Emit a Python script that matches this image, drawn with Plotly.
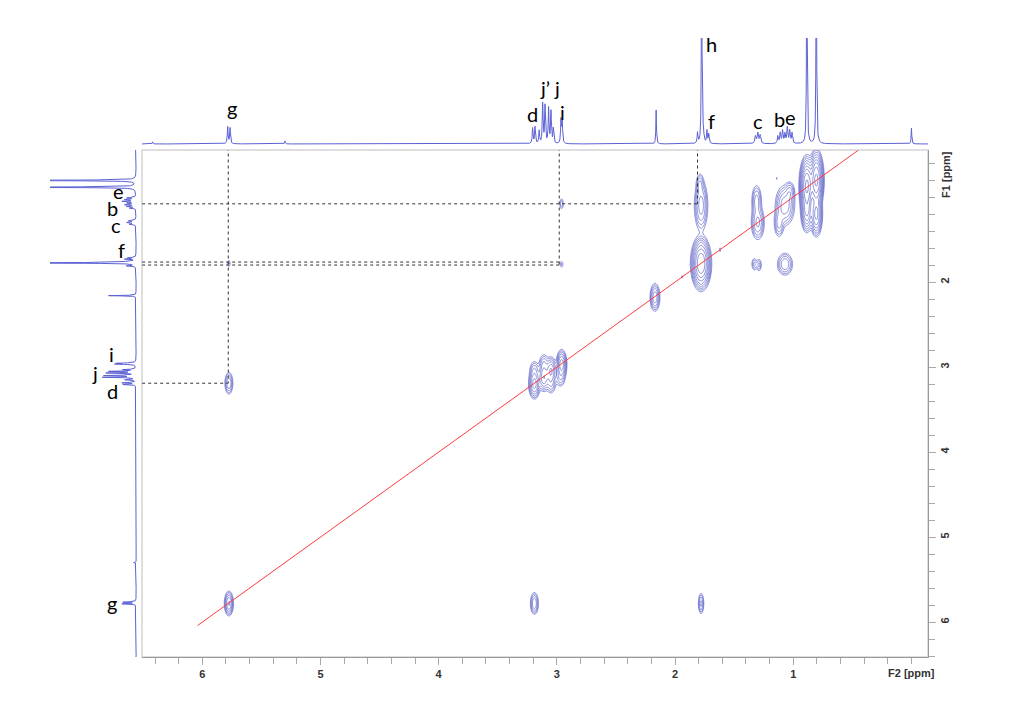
import numpy as np
import plotly.graph_objects as go

H1_PPM = [6.42, 5.785, 5.765, 5.30, 3.205, 3.185, 3.15, 3.12, 3.10, 3.07, 3.05, 3.03,
          2.965, 2.955, 2.16, 1.81, 1.775, 1.76, 1.73, 1.715, 1.32, 1.30, 1.28,
          1.13, 1.11, 1.09, 1.07, 1.05, 1.03, 1.01, 0.885, 0.805, 0.0]
H1_HEIGHT = [0.02, 0.16, 0.15, 0.03, 0.15, 0.16, 0.12, 0.38, 0.36, 0.33, 0.30, 0.14,
             0.22, 0.20, 0.32, 0.10, 2.0, 0.10, 0.12, 0.09, 0.07, 0.10, 0.08,
             0.07, 0.10, 0.12, 0.09, 0.15, 0.12, 0.10, 2.2, 2.2, 0.15]
H1_WIDTH = [0.003, 0.004, 0.004, 0.003, 0.004, 0.004, 0.004, 0.004, 0.004, 0.004, 0.004, 0.004,
            0.004, 0.004, 0.003, 0.004, 0.003, 0.004, 0.004, 0.004, 0.006, 0.006, 0.006,
            0.005, 0.005, 0.005, 0.005, 0.005, 0.005, 0.005, 0.003, 0.003, 0.003]

# ---- 2D COSY peaks: F2, F1 (ppm), intensity, linewidths in F2 / F1 ----
COSY_F2 = [5.775, 3.19, 3.11, 3.05, 2.96, 3.19, 3.05, 3.11, 2.97, 2.17, 1.94, 1.62,
           1.78, 1.78, 1.78, 1.78, 1.79, 1.30, 1.31, 1.29, 1.33, 1.07, 1.12, 1.03,
           1.07, 1.14, 0.885, 0.885, 0.805, 0.805, 0.805,
           5.775, 3.19, 5.775, 1.78, 2.96, 2.96, 1.78]
COSY_F1 = [5.78, 3.20, 3.12, 3.05, 2.97, 3.05, 3.19, 2.97, 3.11, 2.18, 1.94, 1.62,
           1.78, 1.55, 2.03, 1.10, 0.85, 1.30, 1.05, 1.80, 1.79, 1.10, 1.30, 0.95,
           1.79, 0.78, 0.87, 1.15, 0.80, 1.20, 0.62,
           3.19, 5.78, 1.78, 5.78, 1.08, 1.79, 3.15]
COSY_AMP = [1.0, 1.2, 0.9, 1.0, 1.3, 0.3, 0.3, 0.3, 0.3, 0.8, 0.07, 0.08,
            5.0, 0.15, 0.12, 0.7, 0.3, 0.6, 0.4, 0.2, 0.2, 0.8, 0.4, 0.4,
            0.5, 0.06, 6.0, 2.0, 6.0, 2.0, 0.3,
            0.5, 0.5, 0.1, 0.35, 0.15, 0.1, 0.07]
COSY_LW2 = [0.016, 0.02, 0.02, 0.02, 0.018, 0.02, 0.02, 0.02, 0.02, 0.018, 0.006, 0.006,
            0.03, 0.012, 0.01, 0.025, 0.015, 0.025, 0.02, 0.012, 0.012, 0.035, 0.02, 0.02,
            0.03, 0.004, 0.022, 0.02, 0.022, 0.02, 0.01,
            0.016, 0.016, 0.01, 0.012, 0.01, 0.01, 0.003]
COSY_LW1 = [0.06, 0.07, 0.07, 0.07, 0.07, 0.06, 0.06, 0.06, 0.06, 0.07, 0.02, 0.025,
            0.11, 0.03, 0.025, 0.13, 0.06, 0.09, 0.09, 0.04, 0.04, 0.10, 0.08, 0.06,
            0.06, 0.02, 0.12, 0.10, 0.12, 0.10, 0.03,
            0.06, 0.06, 0.03, 0.06, 0.04, 0.03, 0.02]

# assignment labels
TOP_LABELS = ['g', 'd', 'j’', 'j', 'i', 'h', 'f', 'c', 'b', 'e', 'a’', 'a']
TOP_LABEL_PPM = [5.75, 3.21, 3.10, 3.00, 2.95, 1.69, 1.69, 1.30, 1.12, 1.02, 0.93, 0.75]
TOP_LABEL_LEVEL = [0.34, 0.28, 0.53, 0.53, 0.30, 0.94, 0.22, 0.22, 0.24, 0.25, 1.03, 1.05]
LEFT_LABELS = ['a', 'a’', 'e', 'b', 'c', 'h', 'f', 'i', 'j', 'd', 'g']
LEFT_LABEL_PPM = [0.72, 0.94, 0.93, 1.13, 1.33, 1.75, 1.62, 2.85, 3.07, 3.28, 5.78]
LEFT_LABEL_LEVEL = [1.10, 1.10, 0.21, 0.27, 0.23, 1.12, 0.17, 0.29, 0.48, 0.27, 0.28]

# dashed correlation guides
GUIDE_H_F1 = [1.08, 1.765, 1.80, 3.19]      # horizontal, from F1 projection
GUIDE_H_END = [1.81, 2.98, 2.98, 5.78]
GUIDE_V_F2 = [5.78, 2.98, 1.81]             # vertical, from F2 projection
GUIDE_V_END = [3.19, 1.80, 1.08]

DIAGONAL = [6.04, 0.45]

F2_TICKS = [6, 5, 4, 3, 2, 1]
F1_TICKS = [2, 3, 4, 5, 6]

F2_RANGE = [6.51, -0.14]
F1_RANGE = [6.41, 0.447]

SPEC = '#5b61d4'
CONT = '#5a60c6'
W, H = 1024, 720
PAGE_OFFSET = 8  # default body margin of the html page


def hx(p):
    return (p - PAGE_OFFSET) / W


def vy(p):
    return 1 - (p - PAGE_OFFSET) / H


# 1D trace (sum of lorentzians)
ppm1 = np.linspace(F2_RANGE[0], F2_RANGE[1], 5000)
spec = np.zeros_like(ppm1)
for p0, h0, w0 in zip(H1_PPM, H1_HEIGHT, H1_WIDTH):
    spec += h0 * w0 ** 2 / ((ppm1 - p0) ** 2 + w0 ** 2)

# 2D map (gaussian cross peaks), log scaled so contour levels are geometric
gx = np.linspace(F2_RANGE[0], F2_RANGE[1], 640)
gy = np.linspace(F1_RANGE[1], F1_RANGE[0], 520)
X, Y = np.meshgrid(gx, gy)
Z = np.zeros_like(X)
for f2, f1, a, s2, s1 in zip(COSY_F2, COSY_F1, COSY_AMP, COSY_LW2, COSY_LW1):
    Z += a * np.exp(-0.5 * (((X - f2) / s2) ** 2 + ((Y - f1) / s1) ** 2))
Z = np.round(np.clip(np.log10(Z + 1e-4), -2, 2), 2)

fig = go.Figure()

fig.add_trace(go.Contour(
    x=gx, y=gy, z=Z, xaxis='x', yaxis='y',
    contours=dict(start=-1.3, end=1.0, size=0.25, coloring='lines'),
    colorscale=[[0, CONT], [1, CONT]], line=dict(width=0.7),
    showscale=False, hoverinfo='skip'
))

fig.add_trace(go.Scatter(
    x=DIAGONAL, y=DIAGONAL, mode='lines', xaxis='x', yaxis='y',
    line=dict(color='#ff3c3c', width=1), hoverinfo='skip'
))

# top projection
fig.add_trace(go.Scatter(
    x=ppm1, y=spec, mode='lines', xaxis='x2', yaxis='y2',
    line=dict(color=SPEC, width=1), hoverinfo='skip'
))
# left projection
fig.add_trace(go.Scatter(
    x=spec, y=ppm1, mode='lines', xaxis='x3', yaxis='y3',
    line=dict(color=SPEC, width=1), hoverinfo='skip'
))

shapes = [dict(type='rect', xref='x domain', yref='y domain', x0=0, x1=1, y0=0, y1=1,
               line=dict(color='#d4d4d4', width=1.5), layer='below')]
for f1, end in zip(GUIDE_H_F1, GUIDE_H_END):
    shapes.append(dict(type='line', xref='x', yref='y', x0=F2_RANGE[0] + 0.1, x1=end,
                       y0=f1, y1=f1, line=dict(color='#333', width=1, dash='dot')))
for f2, end in zip(GUIDE_V_F2, GUIDE_V_END):
    shapes.append(dict(type='line', xref='x', yref='y', x0=f2, x1=f2,
                       y0=F1_RANGE[1] - 0.1, y1=end, line=dict(color='#333', width=1, dash='dot')))

label_font = dict(family='Lato, Open Sans, sans-serif', size=20, color='black')
annotations = []
for t, p, v in zip(TOP_LABELS, TOP_LABEL_PPM, TOP_LABEL_LEVEL):
    annotations.append(dict(text=t, x=p, y=v, xref='x2', yref='y2', showarrow=False, font=label_font))
for t, p, v in zip(LEFT_LABELS, LEFT_LABEL_PPM, LEFT_LABEL_LEVEL):
    annotations.append(dict(text=t, x=v, y=p, xref='x3', yref='y3', showarrow=False, font=label_font))

axis_font = dict(family='Liberation Sans, Arial', size=11, color='#333', weight='bold')
annotations.append(dict(text='F2 [ppm]', x=0, y=0, xref='x', yref='y domain', yanchor='top',
                        yshift=-8, showarrow=False, font=axis_font))
annotations.append(dict(text='F1 [ppm]', x=1, y=0.74, xref='x domain', yref='y', xanchor='left',
                        xshift=10, textangle=-90, showarrow=False, font=axis_font))

minor = dict(ticks='outside', ticklen=6, tickcolor='#aaa', dtick=0.2, tick0=0)

fig.update_layout(
    width=W, height=H,
    margin=dict(l=0, r=0, t=0, b=0),
    paper_bgcolor='white', plot_bgcolor='white',
    showlegend=False,
    xaxis=dict(domain=[hx(142), hx(928)], range=F2_RANGE, anchor='y',
               tickvals=F2_TICKS, ticks='outside', ticklen=7, tickcolor='#aaa',
               showline=True, linecolor='#999', linewidth=1, showgrid=False, zeroline=False,
               tickfont=axis_font, minor=minor),
    yaxis=dict(domain=[vy(657), vy(150)], range=F1_RANGE, anchor='x', side='right',
               tickvals=F1_TICKS, tickangle=-90, ticks='outside', ticklen=7, tickcolor='#aaa',
               showline=True, linecolor='#999', linewidth=1, showgrid=False, zeroline=False,
               tickfont=axis_font, minor=minor),
    xaxis2=dict(domain=[hx(142), hx(928)], range=F2_RANGE, anchor='y2', visible=False),
    yaxis2=dict(domain=[vy(145), vy(38)], range=[-0.01, 1.0], anchor='x2', visible=False),
    xaxis3=dict(domain=[hx(50), hx(137)], range=[1.0, -0.01], anchor='y3', visible=False),
    yaxis3=dict(domain=[vy(657), vy(150)], range=F1_RANGE, anchor='x3', visible=False),
    shapes=shapes,
    annotations=annotations,
)

fig.write_html("out.html")
